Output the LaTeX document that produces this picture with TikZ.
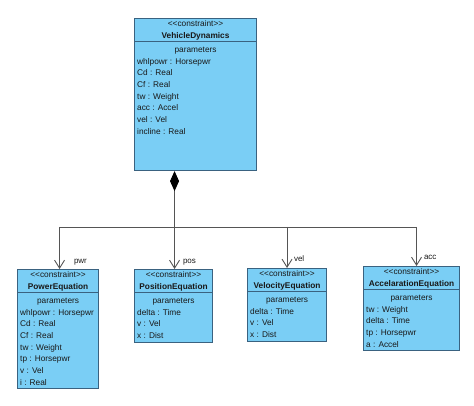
\documentclass[tikz,border=0pt]{standalone}
\usepackage{fontspec}
\setmainfont{Liberation Sans}
\usetikzlibrary{arrows.meta,positioning}

\definecolor{boxfill}{RGB}{122,206,245}
\definecolor{boxline}{RGB}{58,98,128}
\definecolor{linkgray}{RGB}{85,85,85}
\definecolor{txtdark}{RGB}{25,25,25}

\tikzstyle{block} = [rectangle, anchor=north west, draw=boxline, line width=1.1pt, fill=boxfill]
\tikzstyle{txt} = [inner sep=0pt, text=txtdark, font=\fontsize{8.3}{11.5}\selectfont, anchor=base]
\tikzstyle{param} = [txt, anchor=base west]
\tikzstyle{sep} = [draw=boxline, line width=1.1pt]
\tikzstyle{link} = [draw=linkgray, line width=0.9pt]
\tikzstyle{arrow} = [link, -{Straight Barb[length=8pt,width=10pt]}]
\tikzstyle{role} = [inner sep=0pt, text=txtdark, font=\fontsize{8}{10}\selectfont, anchor=base west]

\begin{document}
\begin{tikzpicture}[x=1pt, y=-1pt]
\useasboundingbox (0,0) rectangle (474,406);

% VehicleDynamics
\node (vd) [block, minimum width=122pt, minimum height=152pt] at (134,18) {};
\node (vdst) [txt] at ([yshift=-8.5pt]vd.north) {<{}<constraint>{}>};
\node (vdname) [txt] at ([yshift=-20.5pt]vd.north) {\bfseries VehicleDynamics};
\draw [sep] ([yshift=-23.5pt]vd.north west) -- ([yshift=-23.5pt]vd.north east);
\node (vdpar) [txt] at ([yshift=-34.5pt]vd.north) {parameters};
\foreach \t [count=\i] in {whlpowr : Horsepwr, Cd : Real, Cf : Real, tw : Weight, acc : Accel, vel : Vel, incline : Real}
  \node (vdp\i) [param] at ([xshift=3pt,yshift={-34.5pt-11.65pt*\i}]vd.north west) {\t};

% PowerEquation
\node (pwr) [block, minimum width=81pt, minimum height=119pt] at (17,269) {};
\node (pwrst) [txt] at ([yshift=-8.5pt]pwr.north) {<{}<constraint>{}>};
\node (pwrname) [txt] at ([yshift=-20.5pt]pwr.north) {\bfseries PowerEquation};
\draw [sep] ([yshift=-23.5pt]pwr.north west) -- ([yshift=-23.5pt]pwr.north east);
\node (pwrpar) [txt] at ([yshift=-34.5pt]pwr.north) {parameters};
\foreach \t [count=\i] in {whlpowr : Horsepwr, Cd : Real, Cf : Real, tw : Weight, tp : Horsepwr, v : Vel, i : Real}
  \node (pwrp\i) [param] at ([xshift=3pt,yshift={-34.5pt-11.65pt*\i}]pwr.north west) {\t};

% PositionEquation
\node (pos) [block, minimum width=78pt, minimum height=73pt] at (134,269) {};
\node (posst) [txt] at ([yshift=-8.5pt]pos.north) {<{}<constraint>{}>};
\node (posname) [txt] at ([yshift=-20.5pt]pos.north) {\bfseries PositionEquation};
\draw [sep] ([yshift=-23.5pt]pos.north west) -- ([yshift=-23.5pt]pos.north east);
\node (pospar) [txt] at ([yshift=-34.5pt]pos.north) {parameters};
\foreach \t [count=\i] in {delta : Time, v : Vel, x : Dist}
  \node (posp\i) [param] at ([xshift=3pt,yshift={-34.5pt-11.65pt*\i}]pos.north west) {\t};

% VelocityEquation
\node (vel) [block, minimum width=79pt, minimum height=73pt] at (247,268) {};
\node (velst) [txt] at ([yshift=-8.5pt]vel.north) {<{}<constraint>{}>};
\node (velname) [txt] at ([yshift=-20.5pt]vel.north) {\bfseries VelocityEquation};
\draw [sep] ([yshift=-23.5pt]vel.north west) -- ([yshift=-23.5pt]vel.north east);
\node (velpar) [txt] at ([yshift=-34.5pt]vel.north) {parameters};
\foreach \t [count=\i] in {delta : Time, v : Vel, x : Dist}
  \node (velp\i) [param] at ([xshift=3pt,yshift={-34.5pt-11.65pt*\i}]vel.north west) {\t};

% AccelarationEquation
\node (acc) [block, minimum width=96pt, minimum height=84pt] at (363,266) {};
\node (accst) [txt] at ([yshift=-8.5pt]acc.north) {<{}<constraint>{}>};
\node (accname) [txt] at ([yshift=-20.5pt]acc.north) {\bfseries AccelarationEquation};
\draw [sep] ([yshift=-23.5pt]acc.north west) -- ([yshift=-23.5pt]acc.north east);
\node (accpar) [txt] at ([yshift=-34.5pt]acc.north) {parameters};
\foreach \t [count=\i] in {tw : Weight, delta : Time, tp : Horsepwr, a : Accel}
  \node (accp\i) [param] at ([xshift=3pt,yshift={-34.5pt-11.65pt*\i}]acc.north west) {\t};

% connectors
\coordinate (split) at (174,227);
\coordinate (pwrin) at ([xshift=1.5pt]pwr.north);
\coordinate (posin) at ([xshift=1pt]pos.north);
\coordinate (accin) at ([xshift=5pt]acc.north);
\draw [link, {Diamond[length=20pt,width=9pt,color=black]}-{Straight Barb[length=8pt,width=10pt]}] (vd.south -| posin) -- (posin)
  node [role, xshift=8pt, yshift=5.5pt] {pos};
\draw [link] (pwrin |- split) -- (accin |- split);
\draw [arrow] (pwrin |- split) -- (pwrin) node [role, xshift=14pt, yshift=5.5pt] {pwr};
\draw [arrow] (vel.north |- split) -- (vel.north) node [role, xshift=6.5pt, yshift=6.5pt] {vel};
\draw [arrow] (accin |- split) -- (accin) node [role, xshift=7pt, yshift=6.5pt] {acc};
\end{tikzpicture}
\end{document}
